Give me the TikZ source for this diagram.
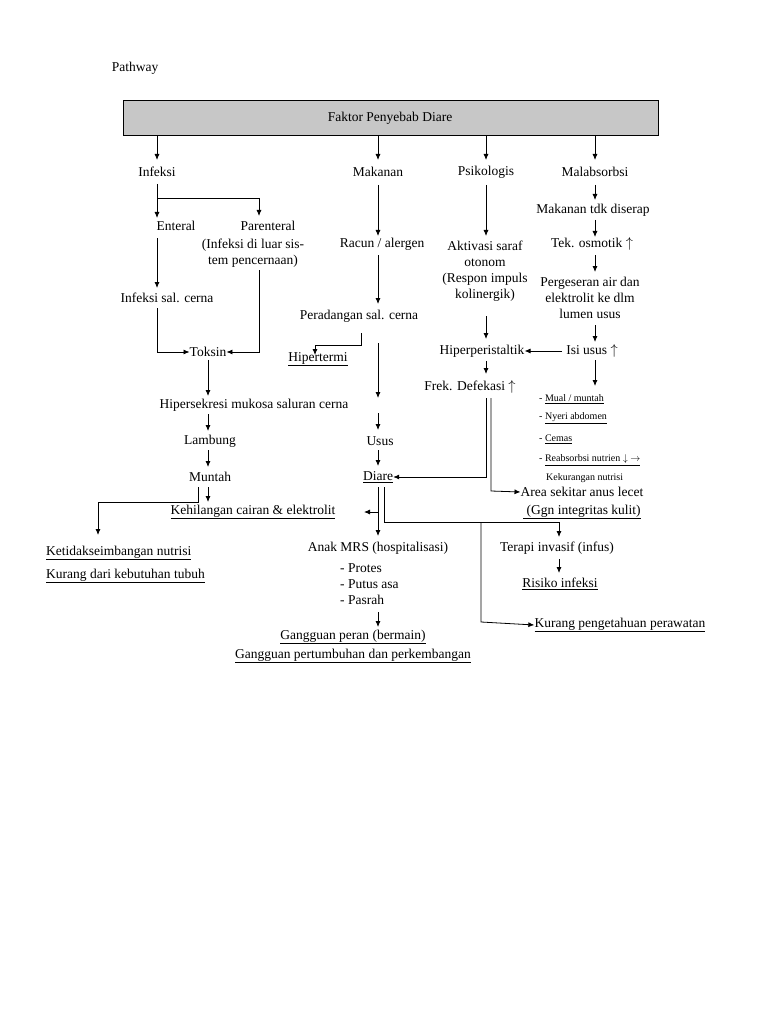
\documentclass[tikz,border=0pt]{standalone}
\usepackage{fontspec}
\setmainfont{Liberation Serif}
\usetikzlibrary{arrows.meta}
\begin{document}
\begin{tikzpicture}[x=1pt,y=-1pt,
  t/.style={font=\fontsize{13.5}{16}\selectfont,inner sep=0pt,align=center},
  s/.style={font=\fontsize{10}{12}\selectfont,inner sep=0pt,anchor=west},
  arr/.style={-{Latex[length=6pt,width=5pt]},line width=0.8pt},
  ln/.style={line width=0.8pt}]
\useasboundingbox (0,0) rectangle (768,1024);
\node[t] (pw) at (135,68) {Pathway};
\draw[line width=1pt,fill=black!22] (123,101) rectangle (658,136);
\node[t] (fak) at (390,118) {Faktor Penyebab Diare};
\node[t] (inf) at (157,172) {Infeksi};
\node[t] (mak) at (378,172) {Makanan};
\node[t] (psi) at (486,172) {Psikologis};
\node[t] (mal) at (595,172) {Malabsorbsi};
\foreach \x in {157,378,486,595} \draw[arr] (\x,136) -- (\x,160);
% Infeksi branch
\node[t] (ent) at (176,226) {Enteral};
\node[t] (par) at (268,226) {Parenteral};
\node[t] (par2) at (253,253) {(Infeksi di luar sis-\\tem pencernaan)};
\draw[ln] (157,184) -- (157,198) -- (259,198);
\draw[arr] (157,198) -- (157,218);
\draw[arr] (259,198) -- (259,216);
\node[t] (isc) at (167,298) {Infeksi sal. cerna};
\draw[arr] (157,238) -- (157,288);
\node[t] (tok) at (208,352) {Toksin};
\draw[arr] (157,308) -- (157,352) -- (tok.west);
\draw[arr] (259,270) -- (259,352) -- (tok.east);
\node[t] (hip) at (254,405) {Hipersekresi mukosa saluran cerna};
\draw[arr] (tok.south) ++(0,3) -- (208,396);
\node[t] (lam) at (210,441) {Lambung};
\draw[arr] (208,414) -- (208,431);
\node[t] (mun) at (210,477) {Muntah};
\draw[arr] (208,450) -- (208,467);
\node[t] (keh) at (253,512) {\underline{Kehilangan cairan \& elektrolit}};
\draw[arr] (208,487) -- (208,502);
\draw[arr] (198,487) -- (198,502) -- (98,502) -- (98,535);
\node[t,anchor=west] (ket) at (46,553) {\underline{Ketidakseimbangan nutrisi}};
\node[t,anchor=west] (kur) at (46,576) {\underline{Kurang dari kebutuhan tubuh}};
% Makanan
\node[t] (rac) at (382,244) {Racun / alergen};
\draw[arr] (378,185) -- (378,236);
\node[t] (per) at (359,316) {Peradangan sal. cerna};
\draw[arr] (378,255) -- (378,304);
\node[t] (hpt) at (318,359) {\underline{Hipertermi}};
\draw[arr] (361,333) -- (361,345) -- (315,345) -- (315,355);
\draw[arr] (378,343) -- (378,398);
\node[t] (usu) at (380,441) {Usus};
\draw[arr] (378,413) -- (378,430);
\node[t] (dia) at (378,477) {\underline{Diare}};
\draw[arr] (378,450) -- (378,466);
\node[t] (anak) at (378,548) {Anak MRS (hospitalisasi)};
\draw[arr] (378,487) -- (378,536);
\draw[arr] (378,512) -- (364,512);
\node[t,anchor=west,align=left] (pro) at (340,584) {- Protes\\- Putus asa\\- Pasrah};
\draw[arr] (378,612) -- (378,627);
\node[t] (gp) at (353,637) {\underline{Gangguan peran (bermain)}};
\node[t] (gt) at (353,656) {\underline{Gangguan pertumbuhan dan perkembangan}};
\node[t] (ter) at (557,548) {Terapi invasif (infus)};
\draw[ln] (384,487) -- (384,522) -- (559,522);
\draw[arr] (559,522) -- (559,537);
\node[t] (ris) at (560,584) {\underline{Risiko infeksi}};
\draw[arr] (559,559) -- (559,573);
\node[t] (kp) at (620,625) {\underline{Kurang pengetahuan perawatan}};
\draw[arr] (481,522) -- (481,622) -- (kp.west);
% Psikologis
\draw[arr] (486,185) -- (486,236);
\node[t] (akt) at (485,271) {Aktivasi saraf\\otonom\\(Respon impuls\\kolinergik)};
\draw[arr] (486,316) -- (486,339);
\node[t] (hpp) at (482,351) {Hiperperistaltik};
\node[t] (isi) at (592,351) {Isi usus $\uparrow$};
\draw[arr] (isi.west) ++(-4,0) -- (hpp.east);
\draw[arr] (486,361) -- (486,374);
\node[t] (frk) at (470,387) {Frek. Defekasi $\uparrow$};
\draw[arr] (486,398) -- (486,477) -- (dia.east);
\node[t] (are) at (582,492) {Area sekitar anus lecet};
\node[t] (ggn) at (582,512) {\underline{\ (Ggn integritas kulit)}};
\draw[arr] (491,398) -- (491,491) -- (are.west);
% Malabsorbsi
\draw[arr] (595,185) -- (595,200);
\node[t] (mtd) at (593,210) {Makanan tdk diserap};
\draw[arr] (595,220) -- (595,237);
\node[t] (tek) at (592,244) {Tek. osmotik $\uparrow$};
\draw[arr] (595,255) -- (595,272);
\node[t] (prg) at (590,298) {Pergeseran air dan\\elektrolit ke dlm\\lumen usus};
\draw[arr] (595,325) -- (595,342);
\draw[arr] (595,360) -- (595,386);
\node[s] (m1) at (539,399) {- \underline{Mual / muntah}};
\node[s] (m2) at (539,418) {- \underline{Nyeri abdomen}};
\node[s] (m3) at (539,439) {- \underline{Cemas}};
\node[s] (m4) at (539,460) {- \underline{Reabsorbsi nutrien $\downarrow$ $\rightarrow$}};
\node[s] (m5) at (546,478) {Kekurangan nutrisi};
\end{tikzpicture}
\end{document}
